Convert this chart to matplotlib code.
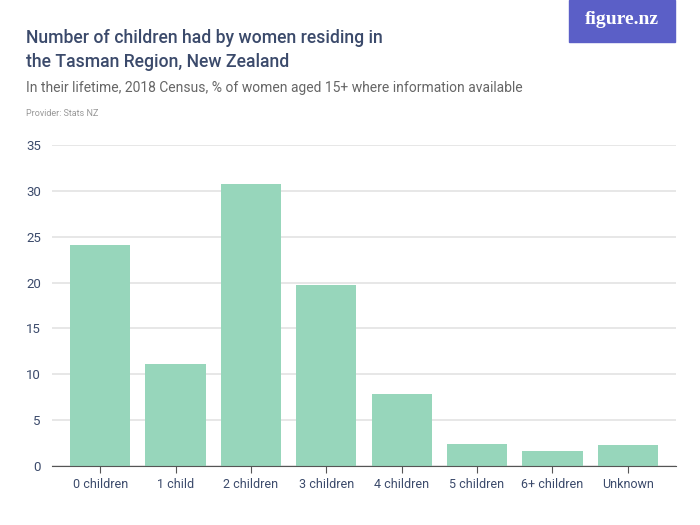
import matplotlib.pyplot as plt
from matplotlib.patches import Rectangle

# số liệu
categories = ['0 children', '1 child', '2 children', '3 children',
              '4 children', '5 children', '6+ children', 'Unknown']
values = [24.1, 11.1, 30.8, 19.7, 7.9, 2.4, 1.6, 2.3]
yticks = [0, 5, 10, 15, 20, 25, 30, 35]

plt.rcParams['font.family'] = ['Roboto', 'DejaVu Sans']

navy = '#3b4a6b'
fig = plt.figure(figsize=(7, 5.25), dpi=100)
ax = fig.add_axes([52 / 700, 1 - 466 / 525, 624 / 700, 321 / 525])

ax.bar(range(len(categories)), values, width=0.8, color='#97d6bb', zorder=2)
ax.set_xlim(-0.64, 7.64)
ax.set_ylim(0, 35)
ax.set_yticks(yticks)
ax.set_xticks(range(len(categories)))
ax.set_xticklabels(categories)
ax.grid(axis='y', color='#e3e3e3', linewidth=1.2, zorder=0)
for s in ['top', 'right', 'left']:
    ax.spines[s].set_visible(False)
ax.spines['bottom'].set_color('#555555')
ax.tick_params(axis='y', length=0, pad=8, labelsize=9.5, labelcolor=navy)
ax.tick_params(axis='x', length=5, color='#555555', labelsize=9, labelcolor=navy)

# tiêu đề
fig.text(26 / 700, 1 - 38 / 525, 'Number of children had by women residing in',
         fontsize=12.7, color=navy, va='center', weight='medium')
fig.text(26 / 700, 1 - 62 / 525, 'the Tasman Region, New Zealand',
         fontsize=12.7, color=navy, va='center', weight='medium')
fig.text(26 / 700, 1 - 88 / 525,
         'In their lifetime, 2018 Census, % of women aged 15+ where information available',
         fontsize=10, color='#666666', va='center')
fig.text(26 / 700, 1 - 113 / 525, 'Provider: Stats NZ', fontsize=6.5, color='#999999', va='center')

# logo
fig.patches.append(Rectangle((569 / 700, 1 - 42 / 525), 106 / 700, 42 / 525,
                             transform=fig.transFigure, color='#5b5fc7'))
fig.text(622 / 700, 1 - 20 / 525, 'figure.nz', fontsize=14, color='white',
         ha='center', va='center', weight='bold', family=['Liberation Serif', 'DejaVu Serif'])

fig.savefig('out.png', dpi=100)
